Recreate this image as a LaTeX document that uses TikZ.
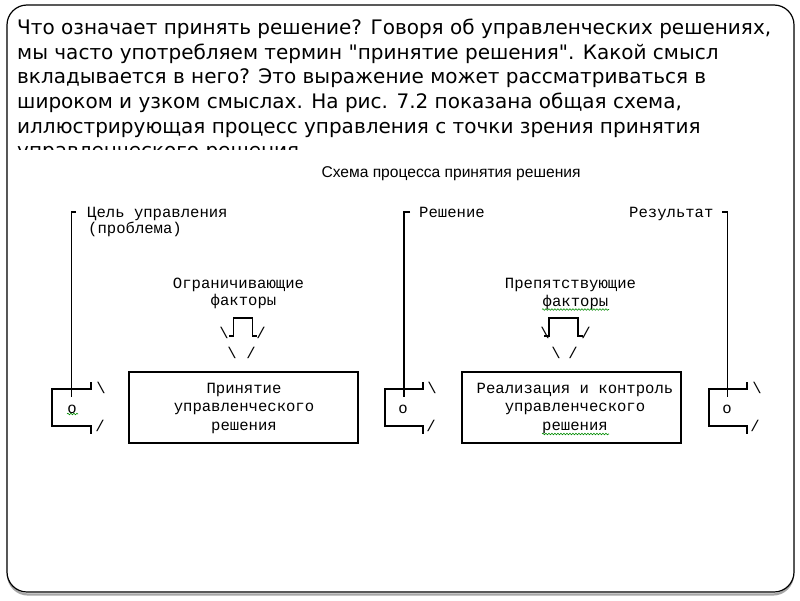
\documentclass[tikz,border=0pt]{standalone}
\usepackage{fontspec}
\setmainfont{DejaVu Sans}[Ligatures=TeXOff]
\newfontfamily\monof{Liberation Mono}[Ligatures=TeXOff]
\newfontfamily\arialf{Liberation Sans}
\usetikzlibrary{decorations.pathmorphing}
\begin{document}
\begin{tikzpicture}[x=1pt,y=-1pt,
  para/.style={anchor=base west, inner sep=0pt, font=\fontsize{20}{24}\selectfont},
  mono/.style={inner sep=0pt, font=\monof\fontsize{15.6}{18.5}\selectfont},
  monob/.style={mono, anchor=base},
  ln/.style={line width=1.3pt, black},
  boxst/.style={draw, line width=1.3pt, inner sep=0pt},
  wavy/.style={green!55!black, line width=0.6pt, decorate, decoration={snake, amplitude=0.8pt, segment length=3pt}}
]
\useasboundingbox (0,0) rectangle (800,600);
\fill[white] (0,0) rectangle (800,600);
% frame
\draw[gray!70, line width=2.2pt, rounded corners=20pt] (8,7.5) rectangle (793,594.5);
\draw[black, line width=1.2pt, fill=white, rounded corners=20pt] (7,5) rectangle (794,592);
% paragraph
\begin{scope}
\clip (0,0) rectangle (800,149);
\node[para] (p1) at (17,34) {Что означает принять решение? Говоря об управленческих решениях,};
\node[para] (p2) at (17,59) {мы часто употребляем термин "принятие решения". Какой смысл};
\node[para] (p3) at (17,83.5) {вкладывается в него? Это выражение может рассматриваться в};
\node[para] (p4) at (17,108) {широком и узком смыслах. На рис. 7.2 показана общая схема,};
\node[para] (p5) at (17,133) {иллюстрирующая процесс управления с точки зрения принятия};
\node[para] (p6) at (17,157.5) {управленческого решения};
\end{scope}
% title
\node[font=\arialf\fontsize{15.6}{18}\selectfont] (title) at (451,174) {Схема процесса принятия решения};
% column labels
\node[mono, anchor=base west] (goal1) at (87,217) {Цель управления};
\node[mono, anchor=base west] (goal2) at (88,233) {(проблема)};
\node[mono, anchor=base west] (dec) at (419,217) {Решение};
\node[mono, anchor=base west] (res) at (629,217) {Результат};
% column lines
\coordinate (t1) at (71.5,212); \coordinate (e1) at (71.5,397);
\coordinate (t2) at (404,212);  \coordinate (e2) at (404,397);
\coordinate (t3) at (727.5,212); \coordinate (e3) at (727.5,397);
\draw[ln] (76,212) -- (t1) -- (e1);
\draw[ln] (410,212) -- (t2) -- (e2);
\draw[ln] (722,212) -- (t3) -- (e3);
% brackets
\foreach \L/\R in {52/91, 385/423, 709/747}{
  \draw[ln] (\R,382) -- (\R,389) -- (\L,389) -- (\L,426) -- (\R,426) -- (\R,434);
}
\node[mono] (o1) at (72,409) {о};
\node[mono] (o2) at (403,409) {о};
\node[mono] (o3) at (727,409) {о};
\node[mono] (bs1) at (101,388) {\textbackslash};
\node[mono] (sl1) at (100,426) {/};
\node[mono] (bs2) at (432,388) {\textbackslash};
\node[mono] (sl2) at (431,426) {/};
\node[mono] (bs3) at (757,388) {\textbackslash};
\node[mono] (sl3) at (755,426) {/};
\draw[wavy] (67,414) -- (78,414);
% boxes
\node[boxst, minimum width=229pt, minimum height=71pt] (b1) at (243.5,407.5) {};
\node[mono, align=center] (b1t) at (244,408) {Принятие\\управленческого\\решения};
\node[boxst, minimum width=219pt, minimum height=71pt] (b2) at (571.5,407.5) {};
\node[mono, align=center] (b2t) at (575,408) {Реализация и контроль\\управленческого\\решения};
\draw[wavy] (542,434) -- (609,434);
% factors
\node[monob] (f1a) at (238.5,288) {Ограничивающие};
\node[monob] (f1b) at (243.5,305) {факторы};
\node[monob] (f2a) at (570.5,288) {Препятствующие};
\node[monob] (f2b) at (575.5,306) {факторы};
\draw[wavy] (542,309.5) -- (609,309.5);
% arrows
\draw[ln] (229,336) -- (233.5,336) -- (233.5,318) -- (252.5,318) -- (252.5,336) -- (257,336);
\node[mono] (a1l) at (224,333) {\textbackslash};
\node[mono] (a1r) at (261,333) {/};
\node[mono] (a1l2) at (232,353) {\textbackslash};
\node[mono] (a1r2) at (251,353) {/};
\draw[ln] (544,336) -- (549,336) -- (549,318) -- (578,318) -- (578,336) -- (583,336);
\node[mono] (a2l) at (545,333) {\textbackslash};
\node[mono] (a2r) at (586,333) {/};
\node[mono] (a2l2) at (556,353) {\textbackslash};
\node[mono] (a2r2) at (573,353) {/};
\end{tikzpicture}
\end{document}
